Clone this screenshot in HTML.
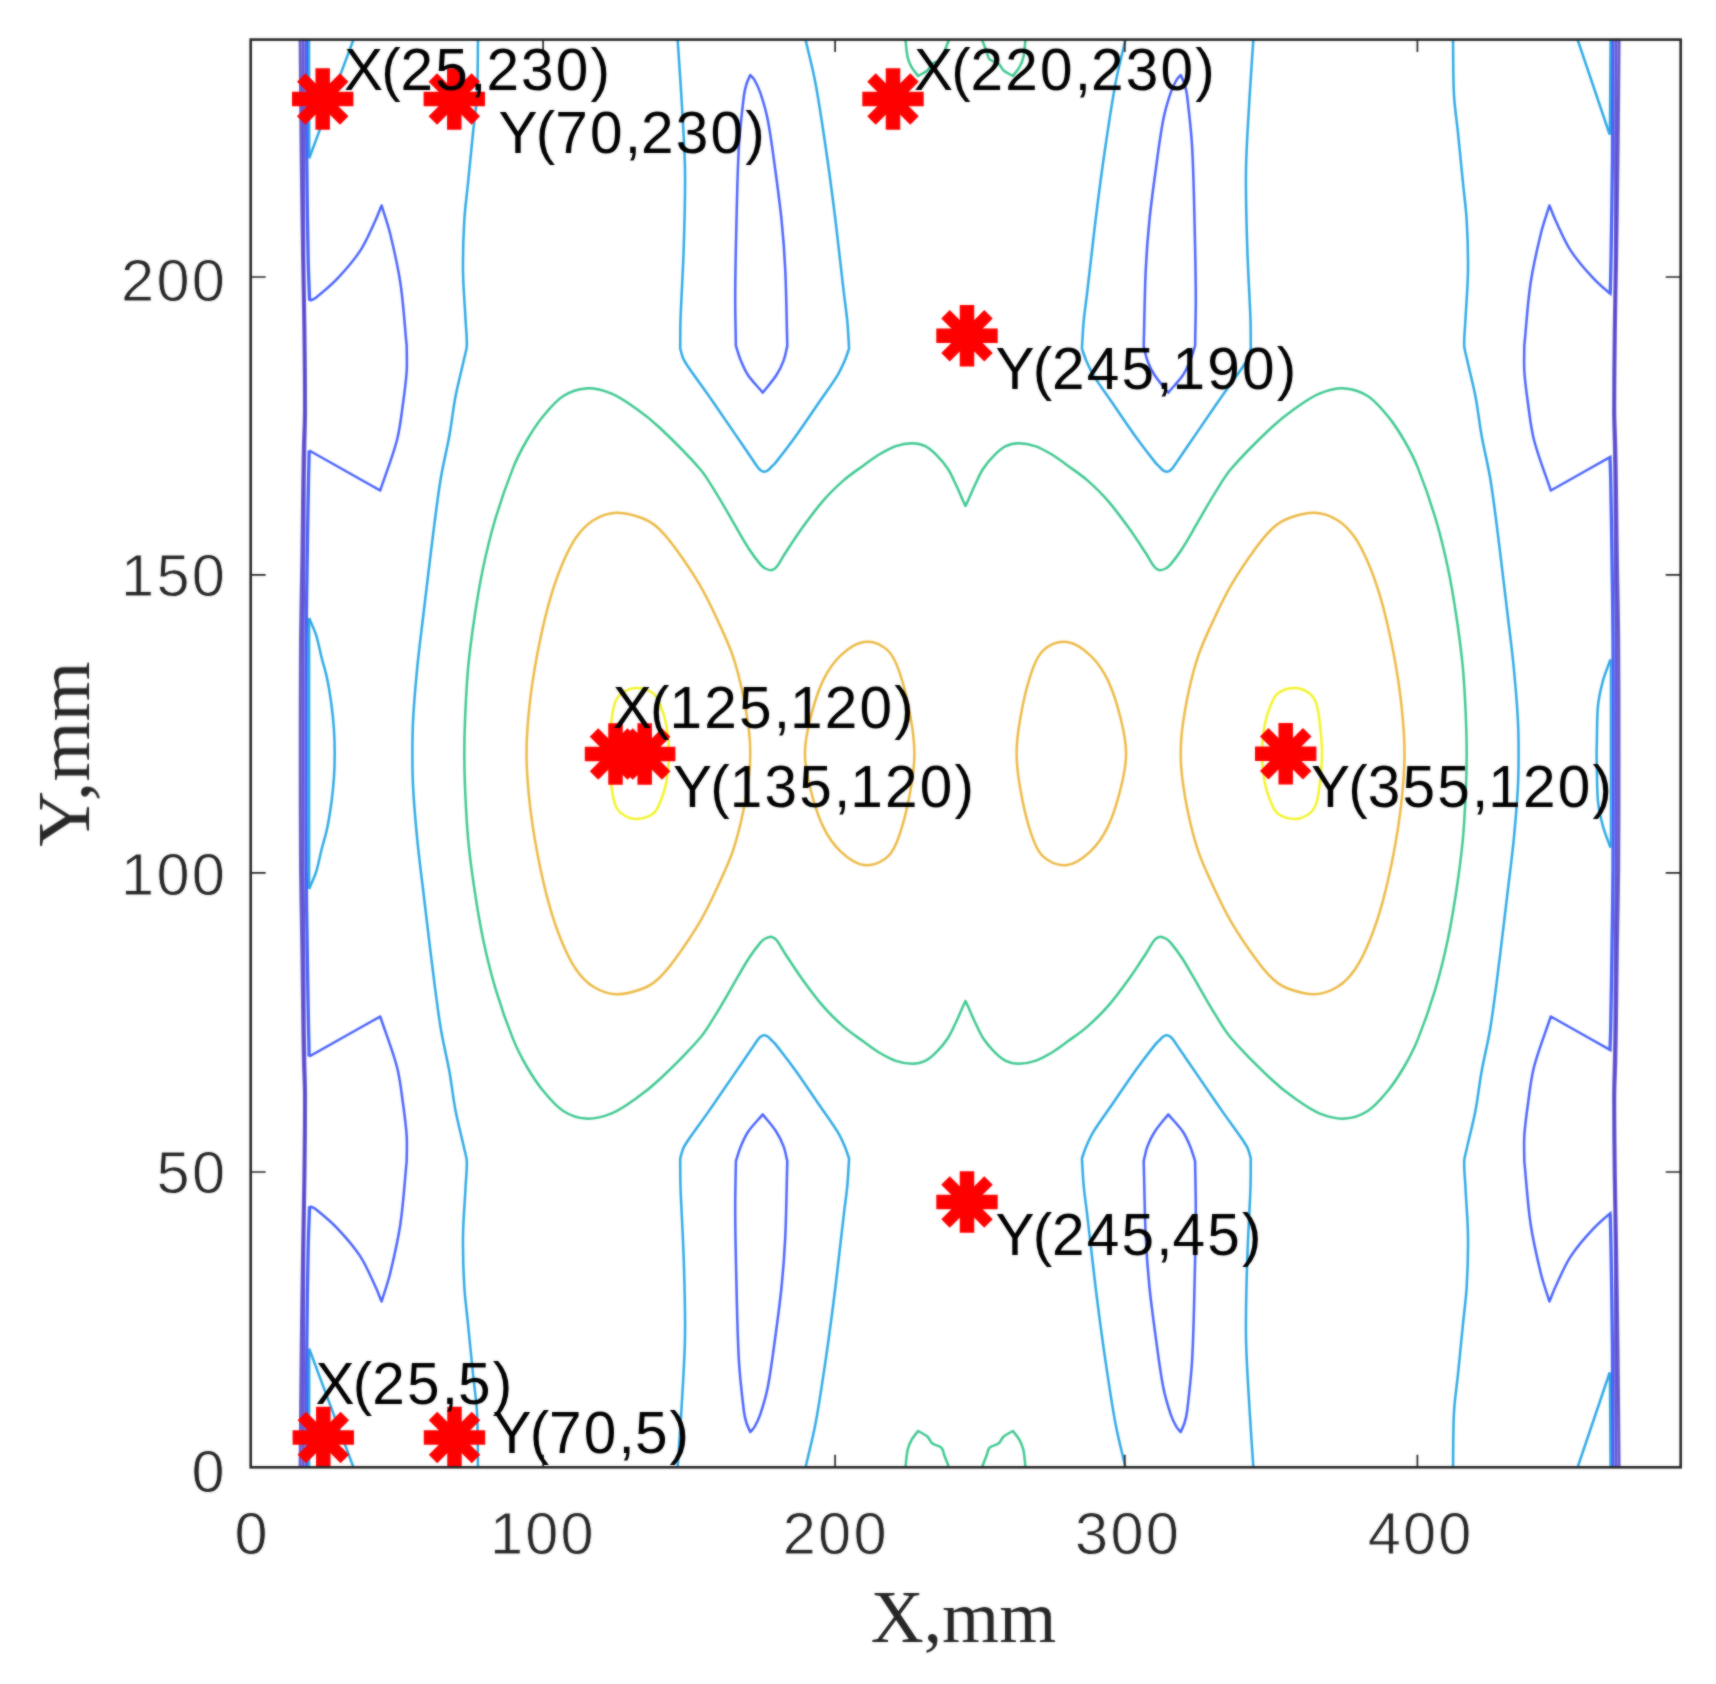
<!DOCTYPE html>
<html lang="en"><head><meta charset="utf-8"><title>Contour plot</title>
<style>html,body{margin:0;padding:0;background:#fff}svg{display:block}</style></head>
<body>
<svg width="1716" height="1684" viewBox="0 0 1716 1684">
<rect width="1716" height="1684" fill="#fff"/>
<defs><clipPath id="ax"><rect x="250.7" y="39.6" width="1430.0" height="1427.7"/></clipPath><filter id="soft" x="0" y="0" width="1716" height="1684" filterUnits="userSpaceOnUse" color-interpolation-filters="sRGB"><feGaussianBlur stdDeviation="0.8" result="b"/><feComposite in="SourceGraphic" in2="b" operator="arithmetic" k1="0" k2="0.45" k3="0.55" k4="0"/></filter><clipPath id="axr"><rect x="250.7" y="39.6" width="1360.8" height="1427.7"/></clipPath></defs>
<g filter="url(#soft)">
<g clip-path="url(#axr)" fill="none" stroke-linejoin="round" stroke-linecap="butt">
<path d="M965.5,1001C964.6,1003 963.6,1005 962.7,1007C960.5,1011.9 958.5,1016.9 956.2,1021.7C953.6,1027.2 951.3,1032.9 948,1038C944.7,1043 940.8,1047.7 936.6,1051.9C933.2,1055.3 929.6,1058.8 925.2,1060.9C921.2,1062.9 916.6,1063.8 912.1,1063.8C906.6,1063.8 901,1062.7 895.8,1060.9C890,1058.9 884.7,1055.8 879.5,1052.7C873.8,1049.3 868.6,1045.2 863.2,1041.3C856.6,1036.5 849.7,1032 843.6,1026.6C836.1,1020 828.9,1013 822.4,1005.4C814.8,996.6 808,987.1 801.2,977.7C795.5,969.7 790.2,961.4 784.8,953.2C782,948.9 779.9,944.2 776.7,940.2C775.5,938.7 773.7,937.2 771.8,936.9C769.6,936.6 767.3,937.5 765.3,938.5C763.4,939.5 761.8,941 760.4,942.6C756.3,947.5 752.5,952.6 749,958C743.2,967 738.1,976.5 732.6,985.8C727.2,995.1 722,1004.5 716.3,1013.6C711.1,1021.9 706.4,1030.6 700,1038C687.5,1052.5 673.9,1065.9 660,1079C652.5,1086.1 644.4,1092.6 636,1098.5C628,1104.1 620,1110 611,1113.6C603.1,1116.8 594.4,1119.1 585.9,1118.6C578,1118.2 570,1115.3 563.3,1111C555.4,1105.9 549.3,1098.3 543.3,1091C537.1,1083.5 531.9,1075.4 527,1067C521.8,1058.1 517,1048.9 513.2,1039.4C506.6,1023 500.8,1006.2 495.7,989.3C490.7,972.8 486.7,956 483.1,939.2C479.6,922.6 476.9,905.8 474.4,889C471.9,872.4 469.7,855.7 468.1,839C466.6,822.3 465.8,805.5 465.1,788.8C464.6,777 464.3,765.3 464.3,753.5C464.3,741.7 464.6,730 465.1,718.2C465.8,701.5 466.6,684.7 468.1,668C469.7,651.3 471.9,634.6 474.4,618C476.9,601.2 479.6,584.4 483.1,567.8C486.7,551 490.7,534.2 495.7,517.7C500.8,500.8 506.6,484 513.2,467.6C517,458.1 521.8,448.9 527,440C531.9,431.6 537.1,423.5 543.3,416C549.3,408.7 555.4,401.1 563.3,396C570,391.7 578,388.8 585.9,388.4C594.4,387.9 603.1,390.2 611,393.4C620,397 628,402.9 636,408.5C644.4,414.4 652.5,420.9 660,428C673.9,441.1 687.5,454.5 700,469C706.4,476.4 711.1,485.1 716.3,493.4C722,502.5 727.2,511.9 732.6,521.2C738.1,530.5 743.2,540 749,549C752.5,554.4 756.3,559.5 760.4,564.4C761.8,566 763.4,567.5 765.3,568.5C767.3,569.5 769.6,570.4 771.8,570.1C773.7,569.8 775.5,568.3 776.7,566.8C779.9,562.8 782,558.1 784.8,553.8C790.2,545.6 795.5,537.3 801.2,529.3C808,519.9 814.8,510.4 822.4,501.6C828.9,494 836.1,487 843.6,480.4C849.7,475 856.6,470.5 863.2,465.7C868.6,461.8 873.8,457.7 879.5,454.3C884.7,451.2 890,448.1 895.8,446.1C901,444.3 906.6,443.2 912.1,443.2C916.6,443.2 921.2,444.1 925.2,446.1C929.6,448.2 933.2,451.7 936.6,455.1C940.8,459.3 944.7,464 948,469C951.3,474.1 953.6,479.8 956.2,485.3C958.5,490.1 960.5,495.1 962.7,500C963.6,502 964.6,504 965.5,506C966.4,504 967.4,502 968.3,500C970.5,495.1 972.5,490.1 974.8,485.3C977.4,479.8 979.7,474.1 983,469C986.3,464 990.2,459.3 994.4,455.1C997.8,451.7 1001.4,448.2 1005.8,446.1C1009.8,444.1 1014.4,443.2 1018.9,443.2C1024.4,443.2 1030,444.3 1035.2,446.1C1041,448.1 1046.3,451.2 1051.5,454.3C1057.2,457.7 1062.4,461.8 1067.8,465.7C1074.4,470.5 1081.3,475 1087.4,480.4C1094.9,487 1102.1,494 1108.6,501.6C1116.2,510.4 1123,519.9 1129.8,529.3C1135.5,537.3 1140.8,545.6 1146.2,553.8C1149,558.1 1151.1,562.8 1154.3,566.8C1155.5,568.3 1157.3,569.8 1159.2,570.1C1161.4,570.4 1163.7,569.5 1165.7,568.5C1167.6,567.5 1169.2,566 1170.6,564.4C1174.7,559.5 1178.5,554.4 1182,549C1187.8,540 1192.9,530.5 1198.4,521.2C1203.8,511.9 1209,502.5 1214.7,493.4C1219.9,485.1 1224.6,476.4 1231,469C1243.5,454.5 1257.1,441.1 1271,428C1278.5,420.9 1286.6,414.4 1295,408.5C1303,402.9 1311,397 1320,393.4C1327.9,390.2 1336.6,387.9 1345.1,388.4C1353,388.8 1361,391.7 1367.7,396C1375.6,401.1 1381.7,408.7 1387.7,416C1393.9,423.5 1399.1,431.6 1404,440C1409.2,448.9 1414,458.1 1417.8,467.6C1424.4,484 1430.2,500.8 1435.3,517.7C1440.3,534.2 1444.3,551 1447.9,567.8C1451.4,584.4 1454.1,601.2 1456.6,618C1459.1,634.6 1461.3,651.3 1462.9,668C1464.4,684.7 1465.2,701.5 1465.9,718.2C1466.4,730 1466.7,741.7 1466.7,753.5C1466.7,765.3 1466.4,777 1465.9,788.8C1465.2,805.5 1464.4,822.3 1462.9,839C1461.3,855.7 1459.1,872.4 1456.6,889C1454.1,905.8 1451.4,922.6 1447.9,939.2C1444.3,956 1440.3,972.8 1435.3,989.3C1430.2,1006.2 1424.4,1023 1417.8,1039.4C1414,1048.9 1409.2,1058.1 1404,1067C1399.1,1075.4 1393.9,1083.5 1387.7,1091C1381.7,1098.3 1375.6,1105.9 1367.7,1111C1361,1115.3 1353,1118.2 1345.1,1118.6C1336.6,1119.1 1327.9,1116.8 1320,1113.6C1311,1110 1303,1104.1 1295,1098.5C1286.6,1092.6 1278.5,1086.1 1271,1079C1257.1,1065.9 1243.5,1052.5 1231,1038C1224.6,1030.6 1219.9,1021.9 1214.7,1013.6C1209,1004.5 1203.8,995.1 1198.4,985.8C1192.9,976.5 1187.8,967 1182,958C1178.5,952.6 1174.7,947.5 1170.6,942.6C1169.2,941 1167.6,939.5 1165.7,938.5C1163.7,937.5 1161.4,936.6 1159.2,936.9C1157.3,937.2 1155.5,938.7 1154.3,940.2C1151.1,944.2 1149,948.9 1146.2,953.2C1140.8,961.4 1135.5,969.7 1129.8,977.7C1123,987.1 1116.2,996.6 1108.6,1005.4C1102.1,1013 1094.9,1020 1087.4,1026.6C1081.3,1032 1074.4,1036.5 1067.8,1041.3C1062.4,1045.2 1057.2,1049.3 1051.5,1052.7C1046.3,1055.8 1041,1058.9 1035.2,1060.9C1030,1062.7 1024.4,1063.8 1018.9,1063.8C1014.4,1063.8 1009.8,1062.9 1005.8,1060.9C1001.4,1058.8 997.8,1055.3 994.4,1051.9C990.2,1047.7 986.3,1043 983,1038C979.7,1032.9 977.4,1027.2 974.8,1021.7C972.5,1016.9 970.5,1011.9 968.3,1007C967.4,1005 966.4,1003 965.5,1001Z" stroke="#3fc890" stroke-width="2.5"/>
<path d="M526.5,753.5C526.5,737.5 527.8,721.6 529.5,705.7C531.3,688.9 533.9,672.2 537,655.6C540.2,638.7 543.8,622 548.3,605.4C551.8,592.7 555.8,580 560.8,567.8C565,557.4 569.6,547 575.9,537.8C580.6,531 586.4,524.6 593.4,520.2C600.1,516 608.1,513.1 616,512.7C624.5,512.3 633,514.9 641,517.7C646.8,519.7 652.4,522.9 657,527C663.9,533.1 669.6,540.4 675,547.8C683.9,559.9 692.4,572.4 700,585.4C706.6,596.7 712.2,608.6 717.7,620.5C723.1,632 728.6,643.6 732.7,655.6C736.9,667.9 740,680.5 742.7,693.2C745.4,705.6 747.4,718.2 749,730.8C749.9,738.3 750.3,745.9 750.3,753.5C750.3,761.1 749.9,768.7 749,776.2C747.4,788.8 745.4,801.4 742.7,813.8C740,826.5 736.9,839.1 732.7,851.4C728.6,863.4 723.1,875 717.7,886.5C712.2,898.4 706.6,910.3 700,921.6C692.4,934.6 683.9,947.1 675,959.2C669.6,966.6 663.9,973.9 657,980C652.4,984.1 646.8,987.3 641,989.3C633,992.1 624.5,994.7 616,994.3C608.1,993.9 600.1,991 593.4,986.8C586.4,982.4 580.6,976 575.9,969.2C569.6,960 565,949.6 560.8,939.2C555.8,927 551.8,914.3 548.3,901.6C543.8,885 540.2,868.3 537,851.4C533.9,834.8 531.3,818.1 529.5,801.3C527.8,785.4 526.5,769.5 526.5,753.5Z" stroke="#ecb945" stroke-width="2.5"/>
<path d="M1404.5,753.5C1404.5,737.5 1403.2,721.6 1401.5,705.7C1399.7,688.9 1397.1,672.2 1394,655.6C1390.8,638.7 1387.2,622 1382.7,605.4C1379.2,592.7 1375.2,580 1370.2,567.8C1366,557.4 1361.4,547 1355.1,537.8C1350.4,531 1344.6,524.6 1337.6,520.2C1330.9,516 1322.9,513.1 1315,512.7C1306.5,512.3 1298,514.9 1290,517.7C1284.2,519.7 1278.6,522.9 1274,527C1267.1,533.1 1261.4,540.4 1256,547.8C1247.1,559.9 1238.6,572.4 1231,585.4C1224.4,596.7 1218.8,608.6 1213.3,620.5C1207.9,632 1202.4,643.6 1198.3,655.6C1194.1,667.9 1191,680.5 1188.3,693.2C1185.6,705.6 1183.6,718.2 1182,730.8C1181.1,738.3 1180.7,745.9 1180.7,753.5C1180.7,761.1 1181.1,768.7 1182,776.2C1183.6,788.8 1185.6,801.4 1188.3,813.8C1191,826.5 1194.1,839.1 1198.3,851.4C1202.4,863.4 1207.9,875 1213.3,886.5C1218.8,898.4 1224.4,910.3 1231,921.6C1238.6,934.6 1247.1,947.1 1256,959.2C1261.4,966.6 1267.1,973.9 1274,980C1278.6,984.1 1284.2,987.3 1290,989.3C1298,992.1 1306.5,994.7 1315,994.3C1322.9,993.9 1330.9,991 1337.6,986.8C1344.6,982.4 1350.4,976 1355.1,969.2C1361.4,960 1366,949.6 1370.2,939.2C1375.2,927 1379.2,914.3 1382.7,901.6C1387.2,885 1390.8,868.3 1394,851.4C1397.1,834.8 1399.7,818.1 1401.5,801.3C1403.2,785.4 1404.5,769.5 1404.5,753.5Z" stroke="#ecb945" stroke-width="2.5"/>
<path d="M804.9,753.5C804.9,741.6 807.5,729.8 810.4,718.2C813.6,705.4 817.3,692.5 823,680.6C827.4,671.4 833.1,662.6 840.5,655.6C847.1,649.4 855,642.9 864,642C872.5,641.1 881.7,644.9 888,650.6C894.9,656.9 897.6,666.8 900.6,675.6C905.2,689.4 908.2,703.8 910.7,718.2C912.8,729.8 914.4,741.7 914.4,753.5C914.4,765.3 912.8,777.2 910.7,788.8C908.2,803.2 905.2,817.6 900.6,831.4C897.6,840.2 894.9,850.1 888,856.4C881.7,862.1 872.5,865.9 864,865C855,864.1 847.1,857.6 840.5,851.4C833.1,844.4 827.4,835.6 823,826.4C817.3,814.5 813.6,801.6 810.4,788.8C807.5,777.2 804.9,765.4 804.9,753.5Z" stroke="#ecb945" stroke-width="2.5"/>
<path d="M1126.1,753.5C1126.1,741.6 1123.5,729.8 1120.6,718.2C1117.4,705.4 1113.7,692.5 1108,680.6C1103.6,671.4 1097.9,662.6 1090.5,655.6C1083.9,649.4 1076,642.9 1067,642C1058.5,641.1 1049.3,644.9 1043,650.6C1036.1,656.9 1033.4,666.8 1030.4,675.6C1025.8,689.4 1022.8,703.8 1020.3,718.2C1018.2,729.8 1016.6,741.7 1016.6,753.5C1016.6,765.3 1018.2,777.2 1020.3,788.8C1022.8,803.2 1025.8,817.6 1030.4,831.4C1033.4,840.2 1036.1,850.1 1043,856.4C1049.3,862.1 1058.5,865.9 1067,865C1076,864.1 1083.9,857.6 1090.5,851.4C1097.9,844.4 1103.6,835.6 1108,826.4C1113.7,814.5 1117.4,801.6 1120.6,788.8C1123.5,777.2 1126.1,765.4 1126.1,753.5Z" stroke="#ecb945" stroke-width="2.5"/>
<path d="M1262,753.5C1262,744.2 1262.9,734.9 1264.5,725.7C1265.7,718.8 1267.8,712.1 1270.5,705.7C1272.4,701.2 1274,696 1278,693.2C1283,689.7 1289.5,687.8 1295.6,688C1301,688.2 1306.4,690.9 1310.6,694.4C1313.9,697.2 1315.8,701.5 1316.9,705.7C1319.1,713.9 1319.7,722.4 1320.6,730.8C1321.4,738.3 1322,745.9 1322,753.5C1322,761.1 1321.4,768.7 1320.6,776.2C1319.7,784.6 1319.1,793.1 1316.9,801.3C1315.8,805.5 1313.9,809.8 1310.6,812.6C1306.4,816.1 1301,818.8 1295.6,819C1289.5,819.2 1283,817.3 1278,813.8C1274,811 1272.4,805.8 1270.5,801.3C1267.8,794.9 1265.7,788.2 1264.5,781.3C1262.9,772.1 1262,762.8 1262,753.5Z" stroke="#f3f32a" stroke-width="2.5"/>
<path d="M669,753.5C669,744.2 668.1,734.9 666.5,725.7C665.3,718.8 663.2,712.1 660.5,705.7C658.6,701.2 657,696 653,693.2C648,689.7 641.5,687.8 635.4,688C630,688.2 624.6,690.9 620.4,694.4C617.1,697.2 615.2,701.5 614.1,705.7C611.9,713.9 611.3,722.4 610.4,730.8C609.6,738.3 609,745.9 609,753.5C609,761.1 609.6,768.7 610.4,776.2C611.3,784.6 611.9,793.1 614.1,801.3C615.2,805.5 617.1,809.8 620.4,812.6C624.6,816.1 630,818.8 635.4,819C641.5,819.2 648,817.3 653,813.8C657,811 658.6,805.8 660.5,801.3C663.2,794.9 665.3,788.2 666.5,781.3C668.1,772.1 669,762.8 669,753.5Z" stroke="#f3f32a" stroke-width="2.5"/>
<path d="M677.6,39C678.8,57.7 680.2,76.3 681.3,95C682.7,120 684.6,145 685,170C685.4,195.2 684.6,220.4 683.8,245.6C683.1,270.4 681.4,295.2 680.5,320C680.2,329.5 680.3,338.9 680.2,348.4C681.1,351.6 681.7,354.9 683,358C684.3,361.1 686.2,363.9 688.1,366.7C694.9,376.6 702.1,386.2 709,396.1C717.2,407.9 725.3,419.8 733.4,431.6C739.5,440.6 745.7,449.5 751.8,458.5C753.7,461.3 755.6,464.2 757.6,467C758.5,468.2 759.3,469.4 760.5,470.3C761.6,471.1 762.9,471.8 764.3,471.8C765.6,471.8 766.9,471.1 768,470.3C769.3,469.4 770.2,468.1 771.3,467C772.5,465.8 773.9,464.7 775,463.4C781.7,455 788.3,446.4 794.6,437.7C803,426 811,414 819.1,402.2C825.3,393.2 831.8,384.5 837.5,375.3C840.4,370.6 842.6,365.6 844.8,360.6C846.5,356.6 847.7,352.5 849.1,348.4C848.5,338.9 848.1,329.4 847.2,320C846.4,311.9 845.2,303.8 844.2,295.7C841.3,270.6 838.6,245.5 835.5,220.5C832.4,195.4 829.1,170.3 825.4,145.3C822.3,124.4 819.3,103.5 815.4,82.7C812.6,68 808.7,53.6 805.4,39" stroke="#2ea9e4" stroke-width="2.5"/>
<path d="M677.6,1468C678.8,1449.3 680.2,1430.7 681.3,1412C682.7,1387 684.6,1362 685,1337C685.4,1311.8 684.6,1286.6 683.8,1261.4C683.1,1236.6 681.4,1211.8 680.5,1187C680.2,1177.5 680.3,1168.1 680.2,1158.6C681.1,1155.4 681.7,1152.1 683,1149C684.3,1145.9 686.2,1143.1 688.1,1140.3C694.9,1130.4 702.1,1120.8 709,1110.9C717.2,1099.1 725.3,1087.2 733.4,1075.4C739.5,1066.4 745.7,1057.5 751.8,1048.5C753.7,1045.7 755.6,1042.8 757.6,1040C758.5,1038.8 759.3,1037.6 760.5,1036.7C761.6,1035.9 762.9,1035.2 764.3,1035.2C765.6,1035.2 766.9,1035.9 768,1036.7C769.3,1037.6 770.2,1038.9 771.3,1040C772.5,1041.2 773.9,1042.3 775,1043.6C781.7,1052 788.3,1060.6 794.6,1069.3C803,1081 811,1093 819.1,1104.8C825.3,1113.8 831.8,1122.5 837.5,1131.7C840.4,1136.4 842.6,1141.4 844.8,1146.4C846.5,1150.4 847.7,1154.5 849.1,1158.6C848.5,1168.1 848.1,1177.6 847.2,1187C846.4,1195.1 845.2,1203.2 844.2,1211.3C841.3,1236.4 838.6,1261.5 835.5,1286.5C832.4,1311.6 829.1,1336.7 825.4,1361.7C822.3,1382.6 819.3,1403.5 815.4,1424.3C812.6,1439 808.7,1453.4 805.4,1468" stroke="#2ea9e4" stroke-width="2.5"/>
<path d="M1253.4,39C1252.2,57.7 1250.8,76.3 1249.7,95C1248.3,120 1246.4,145 1246,170C1245.6,195.2 1246.4,220.4 1247.2,245.6C1247.9,270.4 1249.6,295.2 1250.5,320C1250.8,329.5 1250.7,338.9 1250.8,348.4C1249.9,351.6 1249.3,354.9 1248,358C1246.7,361.1 1244.8,363.9 1242.9,366.7C1236.1,376.6 1228.9,386.2 1222,396.1C1213.8,407.9 1205.7,419.8 1197.6,431.6C1191.5,440.6 1185.3,449.5 1179.2,458.5C1177.3,461.3 1175.4,464.2 1173.4,467C1172.5,468.2 1171.7,469.4 1170.5,470.3C1169.4,471.1 1168.1,471.8 1166.7,471.8C1165.4,471.8 1164.1,471.1 1163,470.3C1161.7,469.4 1160.8,468.1 1159.7,467C1158.5,465.8 1157.1,464.7 1156,463.4C1149.3,455 1142.7,446.4 1136.4,437.7C1128,426 1120,414 1111.9,402.2C1105.7,393.2 1099.2,384.5 1093.5,375.3C1090.6,370.6 1088.4,365.6 1086.2,360.6C1084.5,356.6 1083.3,352.5 1081.9,348.4C1082.5,338.9 1082.9,329.4 1083.8,320C1084.6,311.9 1085.8,303.8 1086.8,295.7C1089.7,270.6 1092.4,245.5 1095.5,220.5C1098.6,195.4 1101.9,170.3 1105.6,145.3C1108.7,124.4 1111.7,103.5 1115.6,82.7C1118.4,68 1122.3,53.6 1125.6,39" stroke="#2ea9e4" stroke-width="2.5"/>
<path d="M1253.4,1468C1252.2,1449.3 1250.8,1430.7 1249.7,1412C1248.3,1387 1246.4,1362 1246,1337C1245.6,1311.8 1246.4,1286.6 1247.2,1261.4C1247.9,1236.6 1249.6,1211.8 1250.5,1187C1250.8,1177.5 1250.7,1168.1 1250.8,1158.6C1249.9,1155.4 1249.3,1152.1 1248,1149C1246.7,1145.9 1244.8,1143.1 1242.9,1140.3C1236.1,1130.4 1228.9,1120.8 1222,1110.9C1213.8,1099.1 1205.7,1087.2 1197.6,1075.4C1191.5,1066.4 1185.3,1057.5 1179.2,1048.5C1177.3,1045.7 1175.4,1042.8 1173.4,1040C1172.5,1038.8 1171.7,1037.6 1170.5,1036.7C1169.4,1035.9 1168.1,1035.2 1166.7,1035.2C1165.4,1035.2 1164.1,1035.9 1163,1036.7C1161.7,1037.6 1160.8,1038.9 1159.7,1040C1158.5,1041.2 1157.1,1042.3 1156,1043.6C1149.3,1052 1142.7,1060.6 1136.4,1069.3C1128,1081 1120,1093 1111.9,1104.8C1105.7,1113.8 1099.2,1122.5 1093.5,1131.7C1090.6,1136.4 1088.4,1141.4 1086.2,1146.4C1084.5,1150.4 1083.3,1154.5 1081.9,1158.6C1082.5,1168.1 1082.9,1177.6 1083.8,1187C1084.6,1195.1 1085.8,1203.2 1086.8,1211.3C1089.7,1236.4 1092.4,1261.5 1095.5,1286.5C1098.6,1311.6 1101.9,1336.7 1105.6,1361.7C1108.7,1382.6 1111.7,1403.5 1115.6,1424.3C1118.4,1439 1122.3,1453.4 1125.6,1468" stroke="#2ea9e4" stroke-width="2.5"/>
<path d="M750.3,75C749,78 747.5,80.9 746.5,84C745.4,87.6 744.5,91.3 744,95C742,111.6 740,128.3 739,145C737.5,170.1 737.1,195.3 736.5,220.5C735.9,245.6 735.3,270.6 735.2,295.7C735.1,312.4 735.7,329.2 735.9,345.9C737.5,350.8 738.8,355.8 740.8,360.6C742.9,365.7 745,370.8 748.1,375.3C752.4,381.5 757.9,386.8 762.8,392.6C767.3,386.8 772.3,381.4 776.3,375.3C779.3,370.7 781.7,365.7 783.6,360.6C785.4,355.9 786.1,350.8 787.3,345.9C786.6,320.8 786.4,295.7 785.3,270.6C784.5,253.9 783.3,237.2 781.6,220.5C779.9,203.6 777.6,186.8 775.3,170C773,153.3 771,136.5 767.8,120C766,110.7 763.3,101.7 760.3,92.7C758.8,88.3 756.8,84.1 754.5,80C753.4,78.1 751.7,76.7 750.3,75Z" stroke="#4a64fa" stroke-width="2.5"/>
<path d="M750.3,1432C749,1429 747.5,1426.1 746.5,1423C745.4,1419.4 744.5,1415.7 744,1412C742,1395.4 740,1378.7 739,1362C737.5,1336.9 737.1,1311.7 736.5,1286.5C735.9,1261.4 735.3,1236.4 735.2,1211.3C735.1,1194.6 735.7,1177.8 735.9,1161.1C737.5,1156.2 738.8,1151.2 740.8,1146.4C742.9,1141.3 745,1136.2 748.1,1131.7C752.4,1125.5 757.9,1120.2 762.8,1114.4C767.3,1120.2 772.3,1125.6 776.3,1131.7C779.3,1136.3 781.7,1141.3 783.6,1146.4C785.4,1151.1 786.1,1156.2 787.3,1161.1C786.6,1186.2 786.4,1211.3 785.3,1236.4C784.5,1253.1 783.3,1269.8 781.6,1286.5C779.9,1303.4 777.6,1320.2 775.3,1337C773,1353.7 771,1370.5 767.8,1387C766,1396.3 763.3,1405.3 760.3,1414.3C758.8,1418.7 756.8,1422.9 754.5,1427C753.4,1428.9 751.7,1430.3 750.3,1432Z" stroke="#4a64fa" stroke-width="2.5"/>
<path d="M1180.7,75C1182,78 1183.5,80.9 1184.5,84C1185.6,87.6 1186.5,91.3 1187,95C1189,111.6 1191,128.3 1192,145C1193.5,170.1 1193.9,195.3 1194.5,220.5C1195.1,245.6 1195.7,270.6 1195.8,295.7C1195.9,312.4 1195.3,329.2 1195.1,345.9C1193.5,350.8 1192.2,355.8 1190.2,360.6C1188.1,365.7 1186,370.8 1182.9,375.3C1178.6,381.5 1173.1,386.8 1168.2,392.6C1163.7,386.8 1158.7,381.4 1154.7,375.3C1151.7,370.7 1149.3,365.7 1147.4,360.6C1145.6,355.9 1144.9,350.8 1143.7,345.9C1144.4,320.8 1144.6,295.7 1145.7,270.6C1146.5,253.9 1147.7,237.2 1149.4,220.5C1151.1,203.6 1153.4,186.8 1155.7,170C1158,153.3 1160,136.5 1163.2,120C1165,110.7 1167.7,101.7 1170.7,92.7C1172.2,88.3 1174.2,84.1 1176.5,80C1177.6,78.1 1179.3,76.7 1180.7,75Z" stroke="#4a64fa" stroke-width="2.5"/>
<path d="M1180.7,1432C1182,1429 1183.5,1426.1 1184.5,1423C1185.6,1419.4 1186.5,1415.7 1187,1412C1189,1395.4 1191,1378.7 1192,1362C1193.5,1336.9 1193.9,1311.7 1194.5,1286.5C1195.1,1261.4 1195.7,1236.4 1195.8,1211.3C1195.9,1194.6 1195.3,1177.8 1195.1,1161.1C1193.5,1156.2 1192.2,1151.2 1190.2,1146.4C1188.1,1141.3 1186,1136.2 1182.9,1131.7C1178.6,1125.5 1173.1,1120.2 1168.2,1114.4C1163.7,1120.2 1158.7,1125.6 1154.7,1131.7C1151.7,1136.3 1149.3,1141.3 1147.4,1146.4C1145.6,1151.1 1144.9,1156.2 1143.7,1161.1C1144.4,1186.2 1144.6,1211.3 1145.7,1236.4C1146.5,1253.1 1147.7,1269.8 1149.4,1286.5C1151.1,1303.4 1153.4,1320.2 1155.7,1337C1158,1353.7 1160,1370.5 1163.2,1387C1165,1396.3 1167.7,1405.3 1170.7,1414.3C1172.2,1418.7 1174.2,1422.9 1176.5,1427C1177.6,1428.9 1179.3,1430.3 1180.7,1432Z" stroke="#4a64fa" stroke-width="2.5"/>
<path d="M478,39C477.7,57.7 478,76.4 477,95C476.3,107.7 474.3,120.3 473,133C471.3,149.7 469.7,166.3 468,183C466.8,195.5 465,208 464.3,220.5C463.3,237.2 462.8,253.9 463,270.6C463.2,287.4 464.8,304.1 465.6,320.8C466,329.1 467.1,337.5 466.8,345.8C466.7,349.9 465.2,353.9 464.3,358C461.5,370.7 458.1,383.2 455.6,396C453.1,408.9 451.8,422 449.5,435C446.8,450.1 442.9,464.9 440.5,480C436.5,505 433.7,530.2 430.5,555.3C427.9,576.2 425.5,597.1 423,618C421,634.7 418.8,651.3 417.2,668C415.6,684.7 414.1,701.4 413.2,718.2C412.5,730 412.4,741.7 412.4,753.5C412.4,765.3 412.5,777 413.2,788.8C414.1,805.6 415.6,822.3 417.2,839C418.8,855.7 421,872.3 423,889C425.5,909.9 427.9,930.8 430.5,951.7C433.7,976.8 436.5,1002 440.5,1027C442.9,1042.1 446.8,1056.9 449.5,1072C451.8,1085 453.1,1098.1 455.6,1111C458.1,1123.8 461.5,1136.3 464.3,1149C465.2,1153.1 466.7,1157.1 466.8,1161.2C467.1,1169.5 466,1177.9 465.6,1186.2C464.8,1202.9 463.2,1219.6 463,1236.4C462.8,1253.1 463.3,1269.8 464.3,1286.5C465,1299 466.8,1311.5 468,1324C469.7,1340.7 471.3,1357.3 473,1374C474.3,1386.7 476.3,1399.3 477,1412C478,1430.6 477.7,1449.3 478,1468" stroke="#2ea9e4" stroke-width="2.5"/>
<path d="M1453,39C1453.3,57.7 1453,76.4 1454,95C1454.7,107.7 1456.7,120.3 1458,133C1459.7,149.7 1461.3,166.3 1463,183C1464.2,195.5 1466,208 1466.7,220.5C1467.7,237.2 1468.2,253.9 1468,270.6C1467.8,287.4 1466.2,304.1 1465.4,320.8C1465,329.1 1463.9,337.5 1464.2,345.8C1464.3,349.9 1465.8,353.9 1466.7,358C1469.5,370.7 1472.9,383.2 1475.4,396C1477.9,408.9 1479.2,422 1481.5,435C1484.2,450.1 1488.1,464.9 1490.5,480C1494.5,505 1497.3,530.2 1500.5,555.3C1503.1,576.2 1505.5,597.1 1508,618C1510,634.7 1512.2,651.3 1513.8,668C1515.4,684.7 1516.9,701.4 1517.8,718.2C1518.5,730 1518.6,741.7 1518.6,753.5C1518.6,765.3 1518.5,777 1517.8,788.8C1516.9,805.6 1515.4,822.3 1513.8,839C1512.2,855.7 1510,872.3 1508,889C1505.5,909.9 1503.1,930.8 1500.5,951.7C1497.3,976.8 1494.5,1002 1490.5,1027C1488.1,1042.1 1484.2,1056.9 1481.5,1072C1479.2,1085 1477.9,1098.1 1475.4,1111C1472.9,1123.8 1469.5,1136.3 1466.7,1149C1465.8,1153.1 1464.3,1157.1 1464.2,1161.2C1463.9,1169.5 1465,1177.9 1465.4,1186.2C1466.2,1202.9 1467.8,1219.6 1468,1236.4C1468.2,1253.1 1467.7,1269.8 1466.7,1286.5C1466,1299 1464.2,1311.5 1463,1324C1461.3,1340.7 1459.7,1357.3 1458,1374C1456.7,1386.7 1454.7,1399.3 1454,1412C1453,1430.6 1453.3,1449.3 1453,1468" stroke="#2ea9e4" stroke-width="2.5"/>
<path d="M309.6,300.7C311.5,299.9 313.6,299.5 315.2,298.2C323.1,291.9 330.9,285.4 337.8,278.1C345.9,269.5 353.8,260.5 360.3,250.6C366.4,241.2 370.6,230.7 375.4,220.5C377.7,215.6 379.5,210.5 381.6,205.5C384.4,214.7 387.7,223.7 390,233C394,249.5 397.9,266.2 400.4,283C403.5,303.8 404.6,324.9 406.7,345.8C406.7,354.2 407.2,362.6 406.7,371C406,381.9 404.5,392.7 403,403.5C401.3,415.7 400.1,428.1 397,440C392.5,457.2 385.8,473.7 380.2,490.5C356.5,477.2 332.9,463.8 309.2,450.5" stroke="#4a64fa" stroke-width="2.5"/>
<path d="M309.6,1206.3C311.5,1207.1 313.6,1207.5 315.2,1208.8C323.1,1215.1 330.9,1221.6 337.8,1228.9C345.9,1237.5 353.8,1246.5 360.3,1256.4C366.4,1265.8 370.6,1276.3 375.4,1286.5C377.7,1291.4 379.5,1296.5 381.6,1301.5C384.4,1292.3 387.7,1283.3 390,1274C394,1257.5 397.9,1240.8 400.4,1224C403.5,1203.2 404.6,1182.1 406.7,1161.2C406.7,1152.8 407.2,1144.4 406.7,1136C406,1125.1 404.5,1114.3 403,1103.5C401.3,1091.3 400.1,1078.9 397,1067C392.5,1049.8 385.8,1033.3 380.2,1016.5C356.5,1029.8 332.9,1043.2 309.2,1056.5" stroke="#4a64fa" stroke-width="2.5"/>
<path d="M1621.4,300.7C1619.5,299.9 1617.4,299.5 1615.8,298.2C1607.9,291.9 1600.1,285.4 1593.2,278.1C1585.1,269.5 1577.2,260.5 1570.7,250.6C1564.6,241.2 1560.4,230.7 1555.6,220.5C1553.3,215.6 1551.5,210.5 1549.4,205.5C1546.6,214.7 1543.3,223.7 1541,233C1537,249.5 1533.1,266.2 1530.6,283C1527.5,303.8 1526.4,324.9 1524.3,345.8C1524.3,354.2 1523.8,362.6 1524.3,371C1525,381.9 1526.5,392.7 1528,403.5C1529.7,415.7 1530.9,428.1 1534,440C1538.5,457.2 1545.2,473.7 1550.8,490.5C1574.5,477.2 1598.1,463.8 1621.8,450.5" stroke="#4a64fa" stroke-width="2.5"/>
<path d="M1621.4,1206.3C1619.5,1207.1 1617.4,1207.5 1615.8,1208.8C1607.9,1215.1 1600.1,1221.6 1593.2,1228.9C1585.1,1237.5 1577.2,1246.5 1570.7,1256.4C1564.6,1265.8 1560.4,1276.3 1555.6,1286.5C1553.3,1291.4 1551.5,1296.5 1549.4,1301.5C1546.6,1292.3 1543.3,1283.3 1541,1274C1537,1257.5 1533.1,1240.8 1530.6,1224C1527.5,1203.2 1526.4,1182.1 1524.3,1161.2C1524.3,1152.8 1523.8,1144.4 1524.3,1136C1525,1125.1 1526.5,1114.3 1528,1103.5C1529.7,1091.3 1530.9,1078.9 1534,1067C1538.5,1049.8 1545.2,1033.3 1550.8,1016.5C1574.5,1029.8 1598.1,1043.2 1621.8,1056.5" stroke="#4a64fa" stroke-width="2.5"/>
<path d="M353.7,39C338.9,78.8 324,118.5 309.2,158.3" stroke="#2ea9e4" stroke-width="2.5"/>
<path d="M1577.4,39C1588.2,70.8 1598.9,102.7 1609.7,134.5" stroke="#2ea9e4" stroke-width="2.5"/>
<path d="M309,39C309.1,78.8 309.1,118.5 309.2,158.3" stroke="#2ea9e4" stroke-width="2.5"/>
<path d="M1610.6,39C1610.4,70.8 1610.1,102.7 1609.9,134.5" stroke="#2ea9e4" stroke-width="2.5"/>
<path d="M353.7,1468C338.9,1428.2 324,1388.5 309.2,1348.7" stroke="#2ea9e4" stroke-width="2.5"/>
<path d="M1577.4,1468C1588.2,1436.2 1598.9,1404.3 1609.7,1372.5" stroke="#2ea9e4" stroke-width="2.5"/>
<path d="M309,1468C309.1,1428.2 309.1,1388.5 309.2,1348.7" stroke="#2ea9e4" stroke-width="2.5"/>
<path d="M1610.6,1468C1610.4,1436.2 1610.1,1404.3 1609.9,1372.5" stroke="#2ea9e4" stroke-width="2.5"/>
<path d="M309.2,618C309.8,619.5 310.4,620.9 311,622.4C312.8,626.8 314.9,631.1 316.3,635.7C318.5,643 319.8,650.6 321.7,658C323.4,664.7 325.6,671.2 327,678C328.9,686.9 330.3,696 331.5,705C332.6,713.3 333.4,721.6 334,730C334.5,737.8 334.7,745.7 334.7,753.5C334.7,761.3 334.5,769.2 334,777C333.4,785.4 332.6,793.7 331.5,802C330.3,811 328.9,820.1 327,829C325.6,835.8 323.4,842.3 321.7,849C319.8,856.4 318.5,864 316.3,871.3C314.9,875.9 312.8,880.2 311,884.6C310.4,886.1 309.8,887.5 309.2,889" stroke="#2ea9e4" stroke-width="2.5"/>
<path d="M309.1,618C309.1,708.3 309.1,798.7 309.1,889" stroke="#2ea9e4" stroke-width="2.5"/>
<path d="M1610.5,659.3C1608,666.4 1605,673.3 1603,680.6C1600.8,688.8 1598.8,697.2 1598,705.7C1596.8,718.2 1597.2,730.8 1596.8,743.3C1596.7,746.7 1596.6,750.1 1596.6,753.5C1596.6,756.9 1596.7,760.3 1596.8,763.7C1597.2,776.2 1596.8,788.8 1598,801.3C1598.8,809.8 1600.8,818.2 1603,826.4C1605,833.7 1608,840.6 1610.5,847.7" stroke="#2ea9e4" stroke-width="2.5"/>
<path d="M1611,659.3C1611,722.1 1611,784.9 1611,847.7" stroke="#2ea9e4" stroke-width="2.5"/>
<path d="M905.4,1468C906.2,1461.8 906.4,1455.6 907.7,1449.5C908.5,1446 910,1442.7 911.7,1439.6C913.5,1436.5 916,1433.9 918.1,1431C921.3,1432.9 924.8,1434.3 927.6,1436.7C929.7,1438.6 930.3,1441.9 932.5,1443.6C935.1,1445.6 939.1,1445.3 941.4,1447.6C943.4,1449.6 943.4,1452.9 944.4,1455.5C946,1459.7 947.7,1463.8 949.3,1468" stroke="#3fc890" stroke-width="2.5"/>
<path d="M905.4,39C906.2,45.2 906.4,51.4 907.7,57.5C908.5,61 910,64.3 911.7,67.4C913.5,70.5 916,73.1 918.1,76C921.3,74.1 924.8,72.7 927.6,70.3C929.7,68.4 930.3,65.1 932.5,63.4C935.1,61.4 939.1,61.7 941.4,59.4C943.4,57.4 943.4,54.1 944.4,51.5C946,47.3 947.7,43.2 949.3,39" stroke="#3fc890" stroke-width="2.5"/>
<path d="M1025.6,1468C1024.8,1461.8 1024.6,1455.6 1023.3,1449.5C1022.5,1446 1021,1442.7 1019.3,1439.6C1017.5,1436.5 1015,1433.9 1012.9,1431C1009.7,1432.9 1006.2,1434.3 1003.4,1436.7C1001.3,1438.6 1000.7,1441.9 998.5,1443.6C995.9,1445.6 991.9,1445.3 989.6,1447.6C987.6,1449.6 987.6,1452.9 986.6,1455.5C985,1459.7 983.3,1463.8 981.7,1468" stroke="#3fc890" stroke-width="2.5"/>
<path d="M1025.6,39C1024.8,45.2 1024.6,51.4 1023.3,57.5C1022.5,61 1021,64.3 1019.3,67.4C1017.5,70.5 1015,73.1 1012.9,76C1009.7,74.1 1006.2,72.7 1003.4,70.3C1001.3,68.4 1000.7,65.1 998.5,63.4C995.9,61.4 991.9,61.7 989.6,59.4C987.6,57.4 987.6,54.1 986.6,51.5C985,47.3 983.3,43.2 981.7,39" stroke="#3fc890" stroke-width="2.5"/>
</g>
<g clip-path="url(#ax)" fill="none">
<path d="M300.1,39C300.5,79.3 300.7,119.7 301.2,160C301.6,193.3 302.1,226.7 302.6,260C303,283.3 303.5,306.7 303.8,330C304.1,356.7 304.5,383.3 304.4,410C304.4,421.7 303.7,433.3 303.4,445C303.1,456.7 303,468.3 302.8,480C302.4,506.7 302.2,533.3 301.8,560C301.4,586.7 300.7,613.3 300.5,640C300.2,677.8 300.2,715.7 300.2,753.5C300.2,791.3 300.2,829.2 300.5,867C300.7,893.7 301.4,920.3 301.8,947C302.2,973.7 302.4,1000.3 302.8,1027C303,1038.7 303.1,1050.3 303.4,1062C303.7,1073.7 304.4,1085.3 304.4,1097C304.5,1123.7 304.1,1150.3 303.8,1177C303.5,1200.3 303,1223.7 302.6,1247C302.1,1280.3 301.6,1313.7 301.2,1347C300.7,1387.3 300.5,1427.7 300.1,1468" stroke="#5040c8" stroke-width="3.0" stroke-opacity="0.85"/>
<path d="M1619.1,39C1618.7,79.3 1618.5,119.7 1618,160C1617.6,193.3 1617.1,226.7 1616.6,260C1616.2,283.3 1615.7,306.7 1615.4,330C1615.1,356.7 1614.7,383.3 1614.8,410C1614.8,421.7 1615.5,433.3 1615.8,445C1616.1,456.7 1616.2,468.3 1616.4,480C1616.8,506.7 1617,533.3 1617.4,560C1617.8,586.7 1618.5,613.3 1618.7,640C1619,677.8 1619,715.7 1619,753.5C1619,791.3 1619,829.2 1618.7,867C1618.5,893.7 1617.8,920.3 1617.4,947C1617,973.7 1616.8,1000.3 1616.4,1027C1616.2,1038.7 1616.1,1050.3 1615.8,1062C1615.5,1073.7 1614.8,1085.3 1614.8,1097C1614.7,1123.7 1615.1,1150.3 1615.4,1177C1615.7,1200.3 1616.2,1223.7 1616.6,1247C1617.1,1280.3 1617.6,1313.7 1618,1347C1618.5,1387.3 1618.7,1427.7 1619.1,1468" stroke="#5040c8" stroke-width="3.0" stroke-opacity="0.85"/>
<path d="M303.2,39C303.3,79.3 303.5,119.7 303.6,160C303.7,193.3 303.6,226.7 303.9,260C304.1,283.3 304.7,306.7 305,330C305.3,356.7 305.6,383.3 305.6,410C305.6,421.7 305.1,433.3 304.9,445C304.7,456.7 304.4,468.3 304.3,480C304.1,506.7 304.1,533.3 303.9,560C303.7,586.7 303.2,613.3 303.1,640C302.9,677.8 303,715.7 303,753.5C303,791.3 302.9,829.2 303.1,867C303.2,893.7 303.7,920.3 303.9,947C304.1,973.7 304.1,1000.3 304.3,1027C304.4,1038.7 304.7,1050.3 304.9,1062C305.1,1073.7 305.6,1085.3 305.6,1097C305.6,1123.7 305.3,1150.3 305,1177C304.7,1200.3 304.1,1223.7 303.9,1247C303.6,1280.3 303.7,1313.7 303.6,1347C303.5,1387.3 303.3,1427.7 303.2,1468" stroke="#5040c8" stroke-width="3.0" stroke-opacity="0.85"/>
<path d="M1616,39C1615.9,79.3 1615.7,119.7 1615.6,160C1615.5,193.3 1615.6,226.7 1615.3,260C1615.1,283.3 1614.5,306.7 1614.2,330C1613.9,356.7 1613.6,383.3 1613.6,410C1613.6,421.7 1614.1,433.3 1614.3,445C1614.5,456.7 1614.8,468.3 1614.9,480C1615.1,506.7 1615.1,533.3 1615.3,560C1615.5,586.7 1616,613.3 1616.1,640C1616.3,677.8 1616.2,715.7 1616.2,753.5C1616.2,791.3 1616.3,829.2 1616.1,867C1616,893.7 1615.5,920.3 1615.3,947C1615.1,973.7 1615.1,1000.3 1614.9,1027C1614.8,1038.7 1614.5,1050.3 1614.3,1062C1614.1,1073.7 1613.6,1085.3 1613.6,1097C1613.6,1123.7 1613.9,1150.3 1614.2,1177C1614.5,1200.3 1615.1,1223.7 1615.3,1247C1615.6,1280.3 1615.5,1313.7 1615.6,1347C1615.7,1387.3 1615.9,1427.7 1616,1468" stroke="#5040c8" stroke-width="3.0" stroke-opacity="0.85"/>
<path d="M306.4,39C306.5,79.3 306.5,119.7 306.8,160C307.1,193.3 307.5,226.7 308.2,260C308.5,273.6 309.1,287.1 309.6,300.7" stroke="#4a64fa" stroke-width="3.3"/>
<path d="M306.4,1468C306.5,1427.7 306.5,1387.3 306.8,1347C307.1,1313.7 307.5,1280.3 308.2,1247C308.5,1233.4 309.1,1219.9 309.6,1206.3" stroke="#4a64fa" stroke-width="3.3"/>
<path d="M309.2,450.5C309,460.3 308.7,470.2 308.5,480C308,506.7 307.6,533.3 307.2,560C306.8,586.7 306.4,613.3 306.2,640C306,677.8 306.1,715.7 306.1,753.5C306.1,791.3 306,829.2 306.2,867C306.4,893.7 306.8,920.3 307.2,947C307.6,973.7 308,1000.3 308.5,1027C308.7,1036.8 309,1046.7 309.2,1056.5" stroke="#4a64fa" stroke-width="3.3"/>
<path d="M1612.8,39C1612.7,79.3 1612.7,119.7 1612.4,160C1612.1,193.3 1611.5,226.7 1611,260C1610.8,271.2 1610.5,282.3 1610.2,293.5" stroke="#4a64fa" stroke-width="3.3"/>
<path d="M1612.8,1468C1612.7,1427.7 1612.7,1387.3 1612.4,1347C1612.1,1313.7 1611.5,1280.3 1611,1247C1610.8,1235.8 1610.5,1224.7 1610.2,1213.5" stroke="#4a64fa" stroke-width="3.3"/>
<path d="M1610,457C1610.2,464.7 1610.6,472.3 1610.7,480C1611.2,506.7 1611.6,533.3 1612,560C1612.4,586.7 1612.8,613.3 1613,640C1613.2,677.8 1613.1,715.7 1613.1,753.5C1613.1,791.3 1613.2,829.2 1613,867C1612.8,893.7 1612.4,920.3 1612,947C1611.6,973.7 1611.2,1000.3 1610.7,1027C1610.6,1034.7 1610.2,1042.3 1610,1050" stroke="#4a64fa" stroke-width="3.3"/>
</g>
<g clip-path="url(#ax)">
<g stroke="#f00" fill="none"><path d="M292,99H353.4M322.7,68.3V129.7" stroke-width="14.5"/><path d="M301.2,77.5L344.2,120.5M301.2,120.5L344.2,77.5" stroke-width="12"/></g>
<g stroke="#f00" fill="none"><path d="M423.6,99H485M454.3,68.3V129.7" stroke-width="14.5"/><path d="M432.8,77.5L475.8,120.5M432.8,120.5L475.8,77.5" stroke-width="12"/></g>
<g stroke="#f00" fill="none"><path d="M862.3,99H923.7M893,68.3V129.7" stroke-width="14.5"/><path d="M871.5,77.5L914.5,120.5M871.5,120.5L914.5,77.5" stroke-width="12"/></g>
<g stroke="#f00" fill="none"><path d="M936.3,335.8H997.7M967,305.1V366.5" stroke-width="14.5"/><path d="M945.5,314.3L988.5,357.3M945.5,357.3L988.5,314.3" stroke-width="12"/></g>
<g stroke="#f00" fill="none"><path d="M584.8,754H646.2M615.5,723.3V784.7" stroke-width="14.5"/><path d="M594,732.5L637,775.5M594,775.5L637,732.5" stroke-width="12"/></g>
<g stroke="#f00" fill="none"><path d="M614,754H675.4M644.7,723.3V784.7" stroke-width="14.5"/><path d="M623.2,732.5L666.2,775.5M623.2,775.5L666.2,732.5" stroke-width="12"/></g>
<g stroke="#f00" fill="none"><path d="M1255,753.8H1316.4M1285.7,723.1V784.5" stroke-width="14.5"/><path d="M1264.2,732.3L1307.2,775.3M1264.2,775.3L1307.2,732.3" stroke-width="12"/></g>
<g stroke="#f00" fill="none"><path d="M936.3,1202H997.7M967,1171.3V1232.7" stroke-width="14.5"/><path d="M945.5,1180.5L988.5,1223.5M945.5,1223.5L988.5,1180.5" stroke-width="12"/></g>
<g stroke="#f00" fill="none"><path d="M292.6,1437.5H354M323.3,1406.8V1468.2" stroke-width="14.5"/><path d="M301.8,1416L344.8,1459M301.8,1459L344.8,1416" stroke-width="12"/></g>
<g stroke="#f00" fill="none"><path d="M423.8,1437.5H485.2M454.5,1406.8V1468.2" stroke-width="14.5"/><path d="M433,1416L476,1459M433,1459L476,1416" stroke-width="12"/></g>
</g>
<rect x="250.7" y="39.6" width="1430.0" height="1427.7" fill="none" stroke="#262626" stroke-width="2.6"/>
<path d="M543.1,1467.3v-12.5M543.1,39.6v12.5M835.1,1467.3v-12.5M835.1,39.6v12.5M1124.8,1467.3v-12.5M1124.8,39.6v12.5M1417.4,1467.3v-12.5M1417.4,39.6v12.5M250.7,1172h15M1680.7,1172h-15M250.7,872.8h15M1680.7,872.8h-15M250.7,574.9h15M1680.7,574.9h-15M250.7,277h15M1680.7,277h-15" stroke="#262626" stroke-width="1.7" fill="none"/>
<text x="343.9" y="90" dx="0 -1.8 0 2.2 2.2 0 2.2 2.2 2.2" font-family="'Liberation Sans',sans-serif" font-size="58.5" fill="#000">X(25,230)</text>
<text x="498.6" y="152.5" dx="0 -1.8 0 2.2 2.2 0 2.2 2.2 2.2" font-family="'Liberation Sans',sans-serif" font-size="58.5" fill="#000">Y(70,230)</text>
<text x="913.9" y="90" dx="0 -1.8 0 2.2 2.2 2.2 0 2.2 2.2 2.2" font-family="'Liberation Sans',sans-serif" font-size="58.5" fill="#000">X(220,230)</text>
<text x="995.4" y="388.5" dx="0 -1.8 0 2.2 2.2 2.2 0 2.2 2.2 2.2" font-family="'Liberation Sans',sans-serif" font-size="58.5" fill="#000">Y(245,190)</text>
<text x="612.8" y="727.5" dx="0 -1.8 0 2.2 2.2 2.2 0 2.2 2.2 2.2" font-family="'Liberation Sans',sans-serif" font-size="58.5" fill="#000">X(125,120)</text>
<text x="673.1" y="806.8" dx="0 -1.8 0 2.2 2.2 2.2 0 2.2 2.2 2.2" font-family="'Liberation Sans',sans-serif" font-size="58.5" fill="#000">Y(135,120)</text>
<text x="1311" y="806.8" dx="0 -1.8 0 2.2 2.2 2.2 0 2.2 2.2 2.2" font-family="'Liberation Sans',sans-serif" font-size="58.5" fill="#000">Y(355,120)</text>
<text x="995.4" y="1255" dx="0 -1.8 0 2.2 2.2 2.2 0 2.2 2.2" font-family="'Liberation Sans',sans-serif" font-size="58.5" fill="#000">Y(245,45)</text>
<text x="315.5" y="1404" dx="0 -1.8 0 2.2 2.2 0 2.2" font-family="'Liberation Sans',sans-serif" font-size="58.5" fill="#000">X(25,5)</text>
<text x="492.4" y="1453" dx="0 -1.8 0 2.2 2.2 0 2.2" font-family="'Liberation Sans',sans-serif" font-size="58.5" fill="#000">Y(70,5)</text>
<text x="234.6" y="1553.8" dx="0" font-family="'Liberation Sans',sans-serif" font-size="59.5" fill="#262626" stroke="#fff" stroke-width="0.8">0</text>
<text x="489.9" y="1553.8" dx="0 2.2 2.2" font-family="'Liberation Sans',sans-serif" font-size="59.5" fill="#262626" stroke="#fff" stroke-width="0.8">100</text>
<text x="782.8" y="1553.8" dx="0 2.2 2.2" font-family="'Liberation Sans',sans-serif" font-size="59.5" fill="#262626" stroke="#fff" stroke-width="0.8">200</text>
<text x="1075.1" y="1553.8" dx="0 2.2 2.2" font-family="'Liberation Sans',sans-serif" font-size="59.5" fill="#262626" stroke="#fff" stroke-width="0.8">300</text>
<text x="1367.7" y="1553.8" dx="0 2.2 2.2" font-family="'Liberation Sans',sans-serif" font-size="59.5" fill="#262626" stroke="#fff" stroke-width="0.8">400</text>
<text x="191.6" y="1491.6" dx="0" font-family="'Liberation Sans',sans-serif" font-size="59.5" fill="#262626" stroke="#fff" stroke-width="0.8">0</text>
<text x="156.6" y="1193" dx="0 2.2" font-family="'Liberation Sans',sans-serif" font-size="59.5" fill="#262626" stroke="#fff" stroke-width="0.8">50</text>
<text x="121.1" y="894.6" dx="0 2.2 2.2" font-family="'Liberation Sans',sans-serif" font-size="59.5" fill="#262626" stroke="#fff" stroke-width="0.8">100</text>
<text x="121.1" y="596" dx="0 2.2 2.2" font-family="'Liberation Sans',sans-serif" font-size="59.5" fill="#262626" stroke="#fff" stroke-width="0.8">150</text>
<text x="121.1" y="300.9" dx="0 2.2 2.2" font-family="'Liberation Sans',sans-serif" font-size="59.5" fill="#262626" stroke="#fff" stroke-width="0.8">200</text>
<text transform="translate(870.8,1642) scale(0.998,1)" font-family="'Liberation Serif',serif" font-size="73.5" fill="#262626">X,mm</text>
<text transform="translate(89,846.8) rotate(-90) scale(1.052,1)" font-family="'Liberation Serif',serif" font-size="73.5" fill="#262626">Y,mm</text>
</g>
</svg>
</body></html>
